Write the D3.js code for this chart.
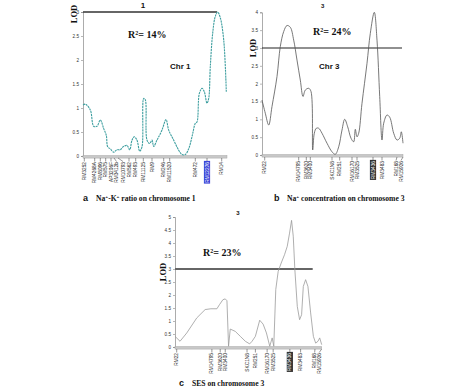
<!DOCTYPE html>
<html><head><meta charset="utf-8">
<script src="https://cdn.jsdelivr.net/npm/d3@7"></script>
<style>body{margin:0;background:#fff}svg{display:block}</style>
</head><body>
<script>
// ---- Panel a: Na+-K+ ratio, chromosome 1 ----
const aPos = [0,2.3,7.3,10.7,14,17.3,20.7,23.3,24.7,27.3,30.7,34,37.3,40,44,46.7,49,51.3,54,56.7,59,60.7,62.3,64,66.7,69,70.7,74,79,83,85.7,90.7,95.7,99,102.3,105.7,109,112.3,114,116.3,119,121.3,124,125.7,127.3,129.7,132.3,134.7,137.3,140.7,143.3];
const aLod = [1.06,1.08,0.96,0.62,0.62,0.75,0.57,0.43,0.19,0.15,0.08,0.13,0.13,0.19,0.22,0.13,0.33,0.40,0.33,0.10,0.19,1.20,1.17,0.33,0.26,0.33,0.20,0.33,0.54,0.76,0.54,0.33,0.12,0.03,0.03,0.15,0.40,0.68,0.71,1.30,1.41,1.34,1.10,1.20,1.86,2.56,2.91,3.0,2.88,2.42,1.34];
const aMarkers = ["RM3252","RM4268A","RM8096","RM575","AP3206F","RM3412b","RM10793","RM562","RM493","RM11125","RM9","RM246","RM11520","RM472","RM12276","RM14"];
const aMarkerPos = [1.3,11.7,17.3,22.7,28,31,35,46,52.7,60.3,69,80.7,86.7,112.3,124,138.7];
const aLabelPos  = [1.3,11.7,17.3,22.7,28,33.5,40,46,52.7,60.3,69,80.7,86.7,112.3,124,138.7];
const aTicks = [0,0.5,1,1.5,2,2.5,3];
const aHighlight = "RM12276";

// ---- Panel b: Na+ concentration, chromosome 3 ----
const bPos = [0,3.3,6.7,10,15,18.3,21.7,25,28.3,31.7,35,38.3,41,43.3,46.7,49,50.7,52.3,54.3,56.7,60,65,70,73.3,76.7,80,82.7,85.7,89,91.7,93.3,95,96.7,100,105,108.3,112.3,115,117.7,120,121.7,125,127.7,131.7,135,137.7,139.3,141];
const bLod = [1.54,1.17,0.84,1.36,2.20,3.04,3.46,3.63,3.58,3.22,2.66,2.10,1.64,1.82,1.87,1.78,0.14,0.61,0.75,0.75,0.61,0.33,0.09,0.02,0.23,0.70,1.0,0.79,0.47,0.37,0.72,0.51,0.61,1.45,2.57,3.41,4.0,3.22,1.64,0.42,0.89,1.12,1.06,0.61,0.42,0.47,0.65,0.33];
const bMarkers = ["RM22","RM14795","RM3620","RM3400","SKC1N8","RM251","RM16170","RM3525","RM3436","RM3483","RM168","RM15926"];
const bMarkerPos = [2.7,36.7,44.3,48.3,70,77.7,90,95,111,120,135,141];
const bLabelPos  = [2.7,36.7,44.3,48.3,70,77.7,90,95,111,120,134,139];
const bTicks = [0,0.5,1,1.5,2,2.5,3,3.5,4];
const bHighlight = "RM3436";

// ---- Panel c: SES, chromosome 3 ----
const cPos = [0,5,11.7,21.7,30,35.7,41.7,44.3,47.7,50,51.7,53.3,55,60,65,70,74.3,76.7,80,84.3,87.7,91,94.3,96.7,98.3,100.3,102.7,105.7,109,111.7,114,116,117.7,119.3,121.7,124,126,127.7,130,132.3,135,137.7,140,142.3,144,146];
const cLod = [0.41,0.22,0.54,1.12,1.44,1.47,1.47,1.63,1.82,1.85,1.78,0.03,0.69,0.60,0.41,0.22,0.12,0.22,0.41,1.03,0.88,0.54,0.03,0.35,0.03,2.21,2.91,3.23,3.55,3.87,4.38,4.87,4.26,2.97,1.56,1.05,1.24,2.33,2.59,2.33,1.31,0.41,0.15,0.22,0.35,0.09];
const cMarkers = ["RM22","RM14795","RM3620","RM3400","SKC1N8","RM251","RM16170","RM3525","RM3436","RM3483","RM168","RM15926"];
const cMarkerPos = [1.7,36.7,45,50,71.7,80,91.7,97.7,114.3,125,139.3,146];
const cLabelPos  = [1.7,36.7,45,50,71.7,80,91.7,97.7,114.3,125,139,143.5];
const cTicks = [0,0.5,1,1.5,2,2.5,3,3.5,4,4.5,5];
const cHighlight = "RM3436";

const svg = d3.select("body").append("svg").attr("width",474).attr("height",387);

function panel(o){
  const x = d3.scaleLinear().domain(o.xDomain).range(o.xRange);
  const y = d3.scaleLinear().domain(o.yDomain).range(o.yRange);
  const g = svg.append("g");
  const base = y(0);
  const ax = g.append("g").attr("transform",`translate(${o.xRange[0]},0)`)
    .call(d3.axisLeft(y).tickValues(o.ticks).tickSize(2).tickPadding(2).tickFormat(d3.format("")));
  ax.select(".domain").attr("stroke","#888").attr("stroke-width",0.7);
  ax.selectAll(".tick line").attr("stroke","#888").attr("stroke-width",0.6);
  ax.selectAll("text").attr("font-size",4.6).attr("font-family","Liberation Sans, Arial").attr("fill","#333");
  g.append("rect").attr("x",o.xRange[0]).attr("y",base-0.5).attr("width",o.xRange[1]-o.xRange[0]).attr("height",2.6)
    .attr("fill","#c8c8c8").attr("stroke","#999").attr("stroke-width",0.4);
  g.append("line").attr("x1",o.xRange[0]).attr("x2",o.thrEnd).attr("y1",y(3)).attr("y2",y(3))
    .attr("stroke",o.thrColor).attr("stroke-width",o.thrWidth);
  const line = d3.line().x(d=>x(d[0])).y(d=>y(d[1])).curve(o.curve);
  g.append("path").datum(d3.zip(o.pos,o.lod)).attr("d",line).attr("fill","none")
    .attr("stroke",o.color).attr("stroke-width",o.width).attr("stroke-dasharray",o.dash||null);
  const top = base + 6;
  o.markers.forEach((m,i)=>{
    const tx = x(o.markerPos[i]), lx = x(o.labelPos[i]);
    g.append("line").attr("x1",tx).attr("y1",base+2).attr("x2",lx).attr("y2",top-0.5)
      .attr("stroke","#333").attr("stroke-width",0.5);
    if(m===o.highlight){
      const hr = g.append("rect").attr("transform",`translate(${lx},${top}) rotate(-90)`).attr("fill",o.hlFill);
      const t = g.append("text").attr("transform",`translate(${lx},${top}) rotate(-90)`)
        .attr("text-anchor","end").attr("dominant-baseline","central")
        .attr("font-size",4.8).attr("font-family","Liberation Sans, Arial").attr("fill","#fff").text(m);
      const bb = t.node().getBBox();
      hr.attr("x",bb.x-0.8).attr("y",bb.y-0.6).attr("width",bb.width+1.6).attr("height",bb.height+1.2);
    } else {
      g.append("text").attr("transform",`translate(${lx},${top}) rotate(-90)`)
        .attr("text-anchor","end").attr("dominant-baseline","central")
        .attr("font-size",4.8).attr("font-family","Liberation Sans, Arial").attr("fill","#222").text(m);
    }
  });
  return {x,y,g};
}

panel({xDomain:[0,144],xRange:[83,227],yDomain:[0,3],yRange:[156,12],ticks:aTicks,
  pos:aPos,lod:aLod,color:"#3f9fa0",width:1.1,dash:"2.2,0.7",curve:d3.curveCatmullRom.alpha(0.5),
  thrEnd:217,thrColor:"#333",thrWidth:1.3,
  markers:aMarkers,markerPos:aMarkerPos,labelPos:aLabelPos,highlight:aHighlight,hlFill:"#3b46d8"});

panel({xDomain:[0,141],xRange:[262,403],yDomain:[0,4],yRange:[155,12.3],ticks:bTicks,
  pos:bPos,lod:bLod,color:"#555",width:0.8,curve:d3.curveCatmullRom.alpha(0.5),
  thrEnd:402,thrColor:"#222",thrWidth:1.2,
  markers:bMarkers,markerPos:bMarkerPos,labelPos:bLabelPos,highlight:bHighlight,hlFill:"#333"});

panel({xDomain:[0,146],xRange:[175,321.7],yDomain:[0,5],yRange:[347,217],ticks:cTicks,
  pos:cPos,lod:cLod,color:"#9a9a9a",width:0.8,curve:d3.curveLinear,
  thrEnd:312.7,thrColor:"#666",thrWidth:2.2,
  markers:cMarkers,markerPos:cMarkerPos,labelPos:cLabelPos,highlight:cHighlight,hlFill:"#333"});

function txt(x,y,s,opt){
  const t = svg.append("text").attr("x",x).attr("y",y).attr("font-family",opt.ff||"Liberation Serif, Times New Roman")
    .attr("font-size",opt.fs).attr("font-weight",opt.fw||"bold").attr("fill",opt.fill||"#111")
    .attr("text-anchor",opt.anchor||"start");
  if(opt.rot) t.attr("transform",`rotate(-90,${x},${y})`);
  if(opt.html) t.html(s); else t.text(s);
  return t;
}
txt(143,8,"1",{fs:8,ff:"Liberation Sans, Arial",anchor:"middle"});
txt(77,14,"LOD",{fs:8.5,rot:true,anchor:"middle"});
txt(128,38,'R<tspan dy="-3" font-size="6">2</tspan><tspan dy="3">= 14%</tspan>',{fs:10,html:true});
txt(170,69,"Chr 1",{fs:8,ff:"Liberation Sans, Arial"});
txt(83,201,"a",{fs:9,ff:"Liberation Sans, Arial"});
txt(96,201,'Na<tspan dy="-3" font-size="5">+</tspan><tspan dy="3">-K</tspan><tspan dy="-3" font-size="5">+</tspan><tspan dy="3"> ratio on chromosome 1</tspan>',{fs:7.6,html:true});
txt(322.7,8,"3",{fs:6,ff:"Liberation Sans, Arial",anchor:"middle"});
txt(256,48,"LOD",{fs:8.5,rot:true,anchor:"middle"});
txt(313,35,'R<tspan dy="-3" font-size="6">2</tspan><tspan dy="3">= 24%</tspan>',{fs:10,html:true});
txt(319,69,"Chr 3",{fs:8,ff:"Liberation Sans, Arial"});
txt(274,201,"b",{fs:9,ff:"Liberation Sans, Arial"});
txt(287,201,'Na<tspan dy="-3" font-size="5">+</tspan><tspan dy="3"> concentration on chromosome 3</tspan>',{fs:7.6,html:true});
txt(238,215,"3",{fs:6,ff:"Liberation Sans, Arial",anchor:"middle"});
txt(166,272,"LOD",{fs:8.5,rot:true,anchor:"middle"});
txt(203,256,'R<tspan dy="-3" font-size="6">2</tspan><tspan dy="3">= 23%</tspan>',{fs:10,html:true});
txt(179,386,"c",{fs:9,ff:"Liberation Sans, Arial"});
txt(192,386,"SES on chromosome 3",{fs:7.6});
</script>
</body></html>
